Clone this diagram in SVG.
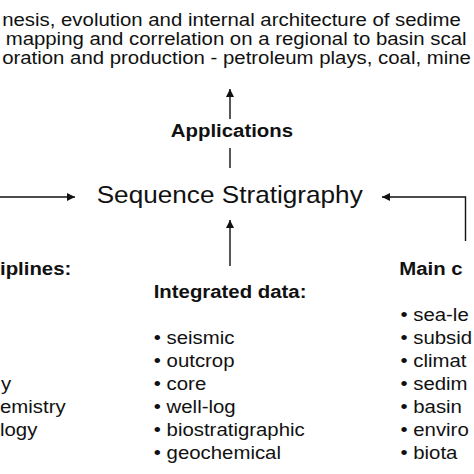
<svg xmlns="http://www.w3.org/2000/svg" width="474" height="474" viewBox="0 0 474 474">
<style>
  text { font-family: "Liberation Sans", Arial, sans-serif; fill: #111; }
  .body { font-size: 18.7px; }
  .head { font-size: 18.7px; font-weight: bold; }
  .title { font-size: 24px; }
  .conn { stroke: #111; stroke-width: 1.4; fill: none; }
</style>
<defs>
  <marker id="arr" viewBox="0 0 10 10" refX="10" refY="5" markerWidth="8" markerHeight="8" markerUnits="userSpaceOnUse" orient="auto">
    <path d="M0,0 L10,5 L0,10 Z" fill="#111"/>
  </marker>
</defs>
<rect width="474" height="474" fill="#fff"/>

<g id="connectors">
  <line class="conn" x1="230" y1="168" x2="230" y2="148"/>
  <line class="conn" x1="230" y1="119" x2="230" y2="89" marker-end="url(#arr)"/>
  <line class="conn" x1="230" y1="266" x2="230" y2="220" marker-end="url(#arr)"/>
  <line class="conn" x1="0" y1="197" x2="75" y2="197" marker-end="url(#arr)"/>
  <path class="conn" d="M465.5,241 V197 H382" marker-end="url(#arr)"/>
</g>

<g transform="scale(1.09 1)">
  <g id="applications-list">
    <text class="body" x="2" y="26">nesis, evolution and internal architecture of sedime</text>
    <text class="body" x="5.2" y="45">mapping and correlation on a regional to basin scal</text>
    <text class="body" x="2" y="64">oration and production - petroleum plays, coal, mine</text>
  </g>
  <g id="applications">
    <text class="head" x="212.8" y="137.5" text-anchor="middle">Applications</text>
  </g>
  <g id="sequence-stratigraphy">
    <text class="title" x="88.7" y="203.3">Sequence Stratigraphy</text>
  </g>
  <g id="disciplines">
    <text class="head" x="0" y="275">iplines:</text>
    <text class="body" x="1" y="390.5">y</text>
    <text class="body" x="0" y="413.5">emistry</text>
    <text class="body" x="0" y="436.5">logy</text>
  </g>
  <g id="integrated-data">
    <text class="head" x="141" y="298.3">Integrated data:</text>
    <text class="body" x="141.1" y="344.5">• seismic</text>
    <text class="body" x="141.1" y="367.5">• outcrop</text>
    <text class="body" x="141.1" y="390.5">• core</text>
    <text class="body" x="141.1" y="413.5">• well-log</text>
    <text class="body" x="141.1" y="436.5">• biostratigraphic</text>
    <text class="body" x="141.1" y="459.5">• geochemical</text>
  </g>
  <g id="main-controls">
    <text class="head" x="366.3" y="275">Main c</text>
    <text class="body" x="367.4" y="321.5">• sea-le</text>
    <text class="body" x="367.4" y="344.5">• subsid</text>
    <text class="body" x="367.4" y="367.5">• climat</text>
    <text class="body" x="367.4" y="390.5">• sedim</text>
    <text class="body" x="367.4" y="413.5">• basin</text>
    <text class="body" x="367.4" y="436.5">• enviro</text>
    <text class="body" x="367.4" y="459.5">• biota</text>
  </g>
</g>
</svg>
